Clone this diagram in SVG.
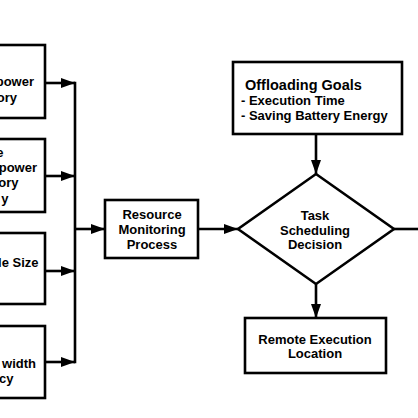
<svg xmlns="http://www.w3.org/2000/svg" width="418" height="418" viewBox="0 0 418 418">
<style>
.box{fill:#fff;stroke:#000;stroke-width:2.6}
.ln{fill:none;stroke:#000;stroke-width:2.6}
text{font-family:"Liberation Sans",Arial,sans-serif;font-weight:bold;font-size:13px;fill:#000}
.c{text-anchor:middle}
.e{text-anchor:end}
.t{font-size:14.5px}
</style>
<defs>
<marker id="ah" viewBox="0 0 14 10" refX="14" refY="5" markerWidth="14" markerHeight="10" markerUnits="userSpaceOnUse" orient="auto">
<path d="M0,0 L14,5 L0,10 Z" fill="#000"/>
</marker>
</defs>
<rect width="418" height="418" fill="#fff"/>
<g id="connectors">
<line class="ln" x1="45" y1="83" x2="75" y2="83" marker-end="url(#ah)"/>
<line class="ln" x1="45" y1="176" x2="75" y2="176" marker-end="url(#ah)"/>
<line class="ln" x1="45" y1="271" x2="75" y2="271" marker-end="url(#ah)"/>
<line class="ln" x1="45" y1="362" x2="75" y2="362" marker-end="url(#ah)"/>
<line class="ln" x1="75" y1="81.7" x2="75" y2="363.3"/>
<line class="ln" x1="75" y1="229" x2="105" y2="229" marker-end="url(#ah)"/>
<line class="ln" x1="198" y1="229" x2="238" y2="229" marker-end="url(#ah)"/>
<line class="ln" x1="316" y1="134" x2="316" y2="174" marker-end="url(#ah)"/>
<line class="ln" x1="316" y1="284" x2="316" y2="318" marker-end="url(#ah)"/>
<line class="ln" x1="394" y1="229" x2="420" y2="229"/>
</g>
<g id="n1">
<rect class="box" x="-10" y="45" width="55" height="73"/>
<text class="e" x="34" y="86">power</text>
<text class="e" x="17" y="101.5">ory</text>
</g>
<g id="n2">
<rect class="box" x="-10" y="139" width="55" height="73"/>
<text class="e" x="3.5" y="156.5">e</text>
<text class="e" x="37" y="171.5">power</text>
<text class="e" x="18.5" y="186.5">ory</text>
<text class="e" x="8.5" y="202.5">y</text>
</g>
<g id="n3">
<rect class="box" x="-10" y="233" width="55" height="71"/>
<text class="e" x="38.5" y="267">le Size</text>
</g>
<g id="n4">
<rect class="box" x="-10" y="326" width="55" height="72"/>
<text class="e" x="36" y="368">width</text>
<text class="e" x="13.5" y="383">cy</text>
</g>
<g id="resource">
<rect class="box" x="105" y="200" width="93" height="58"/>
<text class="c" x="152" y="219">Resource</text>
<text class="c" x="152" y="234">Monitoring</text>
<text class="c" x="152" y="248.5">Process</text>
</g>
<g id="goals">
<rect class="box" x="233" y="62" width="169" height="72"/>
<text class="t" x="245" y="89.5">Offloading Goals</text>
<text x="241" y="105">- Execution Time</text>
<text x="241" y="120">- Saving Battery Energy</text>
</g>
<g id="decision">
<polygon class="box" points="316,174 394,229 316,284 238,229"/>
<text class="c" x="315" y="219.5">Task</text>
<text class="c" x="315" y="234.5">Scheduling</text>
<text class="c" x="315" y="248.5">Decision</text>
</g>
<g id="remote">
<rect class="box" x="245" y="318" width="141" height="55"/>
<text class="c" x="315" y="343.5">Remote Execution</text>
<text class="c" x="315" y="358">Location</text>
</g>
</svg>
